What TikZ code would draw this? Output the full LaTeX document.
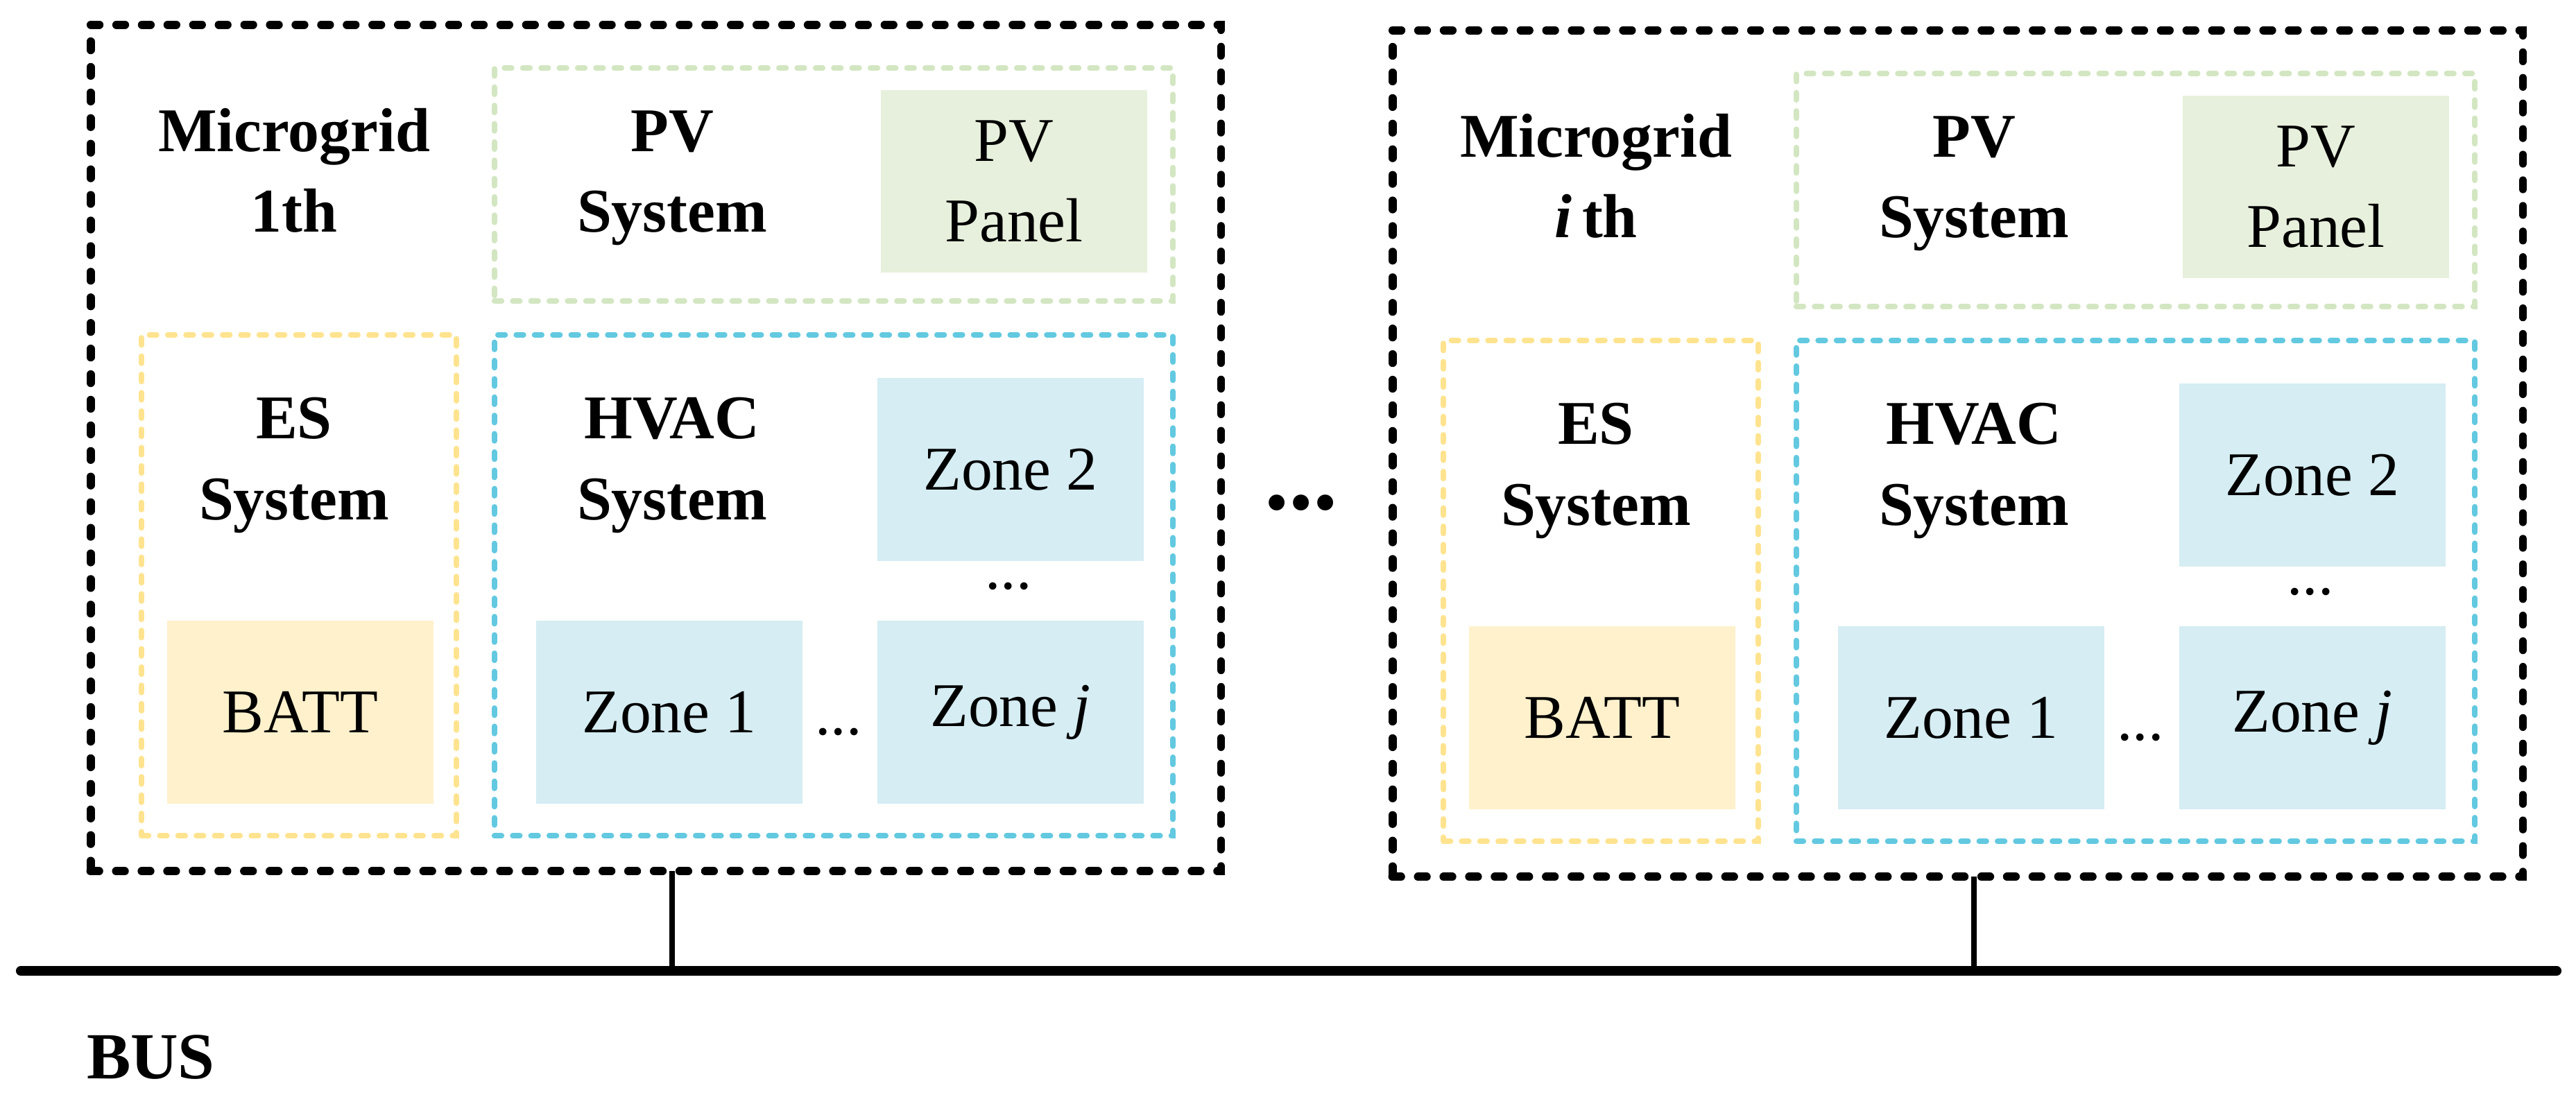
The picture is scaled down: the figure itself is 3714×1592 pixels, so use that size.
\documentclass[tikz,border=0pt]{standalone}
\usepackage{fontspec}
\setmainfont{Liberation Serif}
\definecolor{pvdash}{HTML}{D3E6C2}
\definecolor{pvfill}{HTML}{E7F0DC}
\definecolor{esdash}{HTML}{FFE38F}
\definecolor{esfill}{HTML}{FFF1CC}
\definecolor{hvdash}{HTML}{62C9E0}
\definecolor{hvfill}{HTML}{D5EDF3}
\begin{document}
\begin{tikzpicture}[x=0.01cm,y=-0.01cm,
  every node/.style={inner sep=0pt,outer sep=0pt,font=\fontsize{25.5}{33}\selectfont,align=center},
  blk/.style={draw=black,line width=3.4pt,dash pattern=on 3.5pt off 7pt,line cap=round,rectangle},
  sub/.style={draw=#1,line width=2.2pt,dash pattern=on 3pt off 4.5pt,line cap=round,rectangle},
  fillbox/.style={fill=#1,rectangle,minimum width=3.83cm,minimum height=2.64cm},
  ttl/.style={font=\fontsize{25.5}{33}\selectfont\bfseries},
  pics/microgrid/.style={code={
    \node[blk,minimum width=16.29cm,minimum height=12.2cm] (-outer) at (945.5,646) {};
    \node[sub=pvdash,minimum width=9.78cm,minimum height=3.36cm] (-pv) at (1202,266) {};
    \node[sub=esdash,minimum width=4.54cm,minimum height=7.22cm] (-es) at (431,844) {};
    \node[sub=hvdash,minimum width=9.78cm,minimum height=7.22cm] (-hv) at (1202,844) {};
    \node[fillbox=pvfill,minimum height=2.63cm] (-panel) at (1462,261.5) {PV\\Panel};
    \node[fillbox=esfill] (-batt) at (433,1027) {BATT};
    \node[fillbox=hvfill] (-z2) at (1457,677) {Zone 2};
    \node[fillbox=hvfill] (-z1) at (965,1027) {Zone 1};
    \node[fillbox=hvfill] (-zj) at (1457,1027) {Zone \textit{j}};
    \node[ttl] (-title) at (424,246) {Microgrid\\#1};
    \node[ttl] (-pvs) at (969,257) {PV\\System};
    \node[ttl] (-ess) at (424,671) {ES\\System};
    \node[ttl] (-hvs) at (969,671) {HVAC\\System};
    \node[anchor=base] (-d1) at (1454,850) {...};
    \node[anchor=base] (-d2) at (1209,1060) {...};
    \coordinate (-tap) at (969,1256);
  }}]
\useasboundingbox (0,0) rectangle (3714,1592);
\pic (m1) at (0,0) {microgrid={1th}};
\pic (m2) at (1877,8) {microgrid={\textit{i}\,th}};
\coordinate (busL) at (30,1400);
\coordinate (busR) at (3686,1400);
\draw[line width=4pt,line cap=round] (busL) -- (busR);
\draw[line width=2.2pt] (m1-tap) -- (m1-tap |- busL);
\draw[line width=2.2pt] (m2-tap) -- (m2-tap |- busL);
\node[anchor=base,font=\fontsize{40}{40}\selectfont\bfseries] (gap) at (1876,735) {...};
\node[anchor=west,font=\fontsize{27}{30}\selectfont\bfseries] (bus) at (125,1525) {BUS};
\end{tikzpicture}
\end{document}
